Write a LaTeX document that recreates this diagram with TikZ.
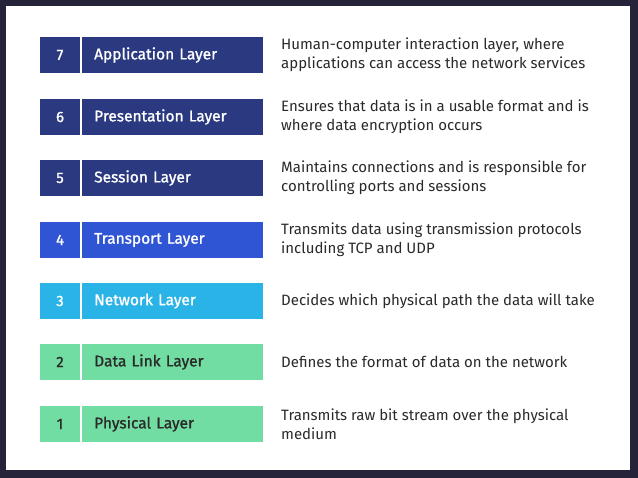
\documentclass[tikz,border=0pt]{standalone}
\usepackage{fontspec}
\setmainfont{Fira Sans}
\newfontfamily\labfont[FakeBold=1.2]{Fira Sans}
\definecolor{frame}{HTML}{24233A}
\definecolor{navy}{HTML}{2B3A80}
\definecolor{blue4}{HTML}{2F55D4}
\definecolor{cyan3}{HTML}{29B3E6}
\definecolor{green2}{HTML}{72DDA2}
\definecolor{txt}{HTML}{2A2A2A}
\begin{document}
\begin{tikzpicture}[x=1pt,y=-1pt,
  numbox/.style={minimum width=40pt,minimum height=36pt,inner sep=0pt,font=\labfont\fontsize{15}{17}\selectfont},
  labbox/.style={minimum width=181pt,minimum height=36pt,inner ysep=0pt,inner xsep=12pt,anchor=west,text width=157pt,align=left,font=\labfont\fontsize{15.5}{17}\selectfont},
  desc/.style={anchor=west,align=left,inner sep=0pt,text=txt,font=\fontsize{15}{19}\selectfont}]
\fill[frame] (0,0) rectangle (638,478);
\fill[white] (6,6) rectangle (630,470);
\foreach \n/\lab/\c/\tc/\y/\d [count=\i] in {
 7/Application Layer/navy/white/55/{Human-computer interaction layer, where\\applications can access the network services},
 6/Presentation Layer/navy/white/117/{Ensures that data is in a usable format and is\\where data encryption occurs},
 5/Session Layer/navy/white/178/{Maintains connections and is responsible for\\controlling ports and sessions},
 4/Transport Layer/blue4/white/240/{Transmits data using transmission protocols\\including TCP and UDP},
 3/Network Layer/cyan3/white/301/{Decides which physical path the data will take},
 2/Data Link Layer/green2/txt/362/{Defines the format of data on the network},
 1/Physical Layer/green2/txt/424/{Transmits raw bit stream over the physical\\medium}}{
 \node[numbox,fill=\c,text=\tc] (n\i) at (60,\y) {\n};
 \node[labbox,fill=\c,text=\tc] (l\i) at (82,\y) {\lab};
 \node[desc] (d\i) at (281,\y) {\d};
}
\end{tikzpicture}
\end{document}
